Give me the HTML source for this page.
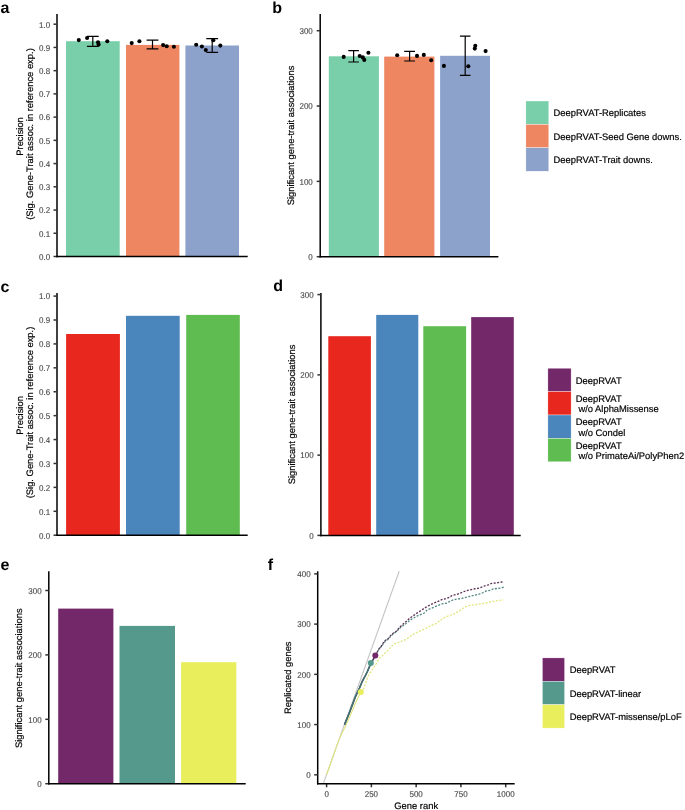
<!DOCTYPE html>
<html><head><meta charset="utf-8"><style>
html,body{margin:0;padding:0;background:#fff;}
svg{display:block;font-family:"Liberation Sans", sans-serif;text-rendering:geometricPrecision;will-change:transform;}
</style></head><body><div id="w">
<svg width="685" height="810" viewBox="0 0 685 810">
<g>
<rect width="685" height="810" fill="#fff"/>
<text x="0.6" y="12.8" font-size="16" font-weight="bold" fill="#000">a</text>
<text transform="translate(50.1,259.80) scale(0.952,1)" font-size="8.4" fill="#4d4d4d" stroke="#4d4d4d" stroke-width="0.15" text-anchor="end">0.0</text>
<text transform="translate(50.1,236.57) scale(0.952,1)" font-size="8.4" fill="#4d4d4d" stroke="#4d4d4d" stroke-width="0.15" text-anchor="end">0.1</text>
<text transform="translate(50.1,213.34) scale(0.952,1)" font-size="8.4" fill="#4d4d4d" stroke="#4d4d4d" stroke-width="0.15" text-anchor="end">0.2</text>
<text transform="translate(50.1,190.11) scale(0.952,1)" font-size="8.4" fill="#4d4d4d" stroke="#4d4d4d" stroke-width="0.15" text-anchor="end">0.3</text>
<text transform="translate(50.1,166.88) scale(0.952,1)" font-size="8.4" fill="#4d4d4d" stroke="#4d4d4d" stroke-width="0.15" text-anchor="end">0.4</text>
<text transform="translate(50.1,143.65) scale(0.952,1)" font-size="8.4" fill="#4d4d4d" stroke="#4d4d4d" stroke-width="0.15" text-anchor="end">0.5</text>
<text transform="translate(50.1,120.42) scale(0.952,1)" font-size="8.4" fill="#4d4d4d" stroke="#4d4d4d" stroke-width="0.15" text-anchor="end">0.6</text>
<text transform="translate(50.1,97.19) scale(0.952,1)" font-size="8.4" fill="#4d4d4d" stroke="#4d4d4d" stroke-width="0.15" text-anchor="end">0.7</text>
<text transform="translate(50.1,73.96) scale(0.952,1)" font-size="8.4" fill="#4d4d4d" stroke="#4d4d4d" stroke-width="0.15" text-anchor="end">0.8</text>
<text transform="translate(50.1,50.73) scale(0.952,1)" font-size="8.4" fill="#4d4d4d" stroke="#4d4d4d" stroke-width="0.15" text-anchor="end">0.9</text>
<text transform="translate(50.1,27.50) scale(0.952,1)" font-size="8.4" fill="#4d4d4d" stroke="#4d4d4d" stroke-width="0.15" text-anchor="end">1.0</text>
<text transform="translate(22.5,136.45) rotate(-90)" x="0" y="0" font-size="9.4" fill="#000" stroke="#000" stroke-width="0.18" text-anchor="middle">Precision</text>
<text transform="translate(32.8,134.05) rotate(-90)" x="0" y="0" font-size="9.4" fill="#000" stroke="#000" stroke-width="0.18" text-anchor="middle">(Sig. Gene-Trait assoc. in reference exp.)</text>
<rect x="66" y="41.2" width="53.70" height="215.30" fill="#79cfa9"/>
<rect x="126" y="44.9" width="53.40" height="211.60" fill="#ee8662"/>
<rect x="185.4" y="45.5" width="53.60" height="211.00" fill="#8da2cb"/>
<path d="M86.89999999999999,36.3H98.7M92.8,36.3V46.4M86.89999999999999,46.4H98.7" stroke="#000" stroke-width="1.2" fill="none"/>
<path d="M146.6,40.1H158.4M152.5,40.1V48.9M146.6,48.9H158.4" stroke="#000" stroke-width="1.2" fill="none"/>
<path d="M206.29999999999998,38.6H218.1M212.2,38.6V52.3M206.29999999999998,52.3H218.1" stroke="#000" stroke-width="1.2" fill="none"/>
<circle cx="78.8" cy="40.1" r="2.05" fill="#000"/>
<circle cx="87.1" cy="38.0" r="2.05" fill="#000"/>
<circle cx="98.0" cy="42.3" r="2.05" fill="#000"/>
<circle cx="98.6" cy="44.6" r="2.05" fill="#000"/>
<circle cx="107.3" cy="41.2" r="2.05" fill="#000"/>
<circle cx="131.7" cy="43.1" r="2.05" fill="#000"/>
<circle cx="139.4" cy="41.3" r="2.05" fill="#000"/>
<circle cx="163.1" cy="45.1" r="2.05" fill="#000"/>
<circle cx="166.7" cy="46.3" r="2.05" fill="#000"/>
<circle cx="173.9" cy="46.7" r="2.05" fill="#000"/>
<circle cx="196.2" cy="44.7" r="2.05" fill="#000"/>
<circle cx="201.9" cy="46.5" r="2.05" fill="#000"/>
<circle cx="205.8" cy="50.0" r="2.05" fill="#000"/>
<circle cx="213.3" cy="40.3" r="2.05" fill="#000"/>
<circle cx="220.3" cy="45.6" r="2.05" fill="#000"/>
<text x="272.3" y="12.8" font-size="16" font-weight="bold" fill="#000">b</text>
<text transform="translate(312.8,260.00) scale(0.952,1)" font-size="8.4" fill="#4d4d4d" stroke="#4d4d4d" stroke-width="0.15" text-anchor="end">0</text>
<text transform="translate(312.8,184.67) scale(0.952,1)" font-size="8.4" fill="#4d4d4d" stroke="#4d4d4d" stroke-width="0.15" text-anchor="end">100</text>
<text transform="translate(312.8,109.34) scale(0.952,1)" font-size="8.4" fill="#4d4d4d" stroke="#4d4d4d" stroke-width="0.15" text-anchor="end">200</text>
<text transform="translate(312.8,34.01) scale(0.952,1)" font-size="8.4" fill="#4d4d4d" stroke="#4d4d4d" stroke-width="0.15" text-anchor="end">300</text>
<text transform="translate(294.0,135.5) rotate(-90)" x="0" y="0" font-size="9.4" fill="#000" stroke="#000" stroke-width="0.18" text-anchor="middle">Significant gene-trait associations</text>
<rect x="328.8" y="56.3" width="50.10" height="200.40" fill="#79cfa9"/>
<rect x="384.2" y="56.6" width="50.20" height="200.10" fill="#ee8662"/>
<rect x="440.1" y="55.8" width="49.90" height="200.90" fill="#8da2cb"/>
<path d="M348.3,50.7H358.90000000000003M353.6,50.7V62.0M348.3,62.0H358.90000000000003" stroke="#000" stroke-width="1.2" fill="none"/>
<path d="M404.20000000000005,51.4H415.0M409.6,51.4V61.0M404.20000000000005,61.0H415.0" stroke="#000" stroke-width="1.2" fill="none"/>
<path d="M459.9,36.1H470.5M465.2,36.1V75.4M459.9,75.4H470.5" stroke="#000" stroke-width="1.2" fill="none"/>
<circle cx="343.7" cy="56.9" r="2.05" fill="#000"/>
<circle cx="359.7" cy="56.0" r="2.05" fill="#000"/>
<circle cx="362.8" cy="57.4" r="2.05" fill="#000"/>
<circle cx="364.3" cy="59.9" r="2.05" fill="#000"/>
<circle cx="368.4" cy="52.8" r="2.05" fill="#000"/>
<circle cx="397.2" cy="55.3" r="2.05" fill="#000"/>
<circle cx="417.0" cy="55.9" r="2.05" fill="#000"/>
<circle cx="423.8" cy="54.9" r="2.05" fill="#000"/>
<circle cx="431.2" cy="60.3" r="2.05" fill="#000"/>
<circle cx="443.9" cy="65.9" r="2.05" fill="#000"/>
<circle cx="468.3" cy="66.2" r="2.05" fill="#000"/>
<circle cx="475.3" cy="45.8" r="2.05" fill="#000"/>
<circle cx="474.8" cy="48.6" r="2.05" fill="#000"/>
<circle cx="485.6" cy="51.1" r="2.05" fill="#000"/>
<rect x="525.9" y="101.00" width="22.9" height="23.40" fill="#79cfa9" stroke="#fff" stroke-width="0.35"/>
<text x="553.6" y="116.40" font-size="9.4" fill="#000" stroke="#000" stroke-width="0.18" xml:space="preserve">DeepRVAT-Replicates</text>
<rect x="525.9" y="124.40" width="22.9" height="23.40" fill="#ee8662" stroke="#fff" stroke-width="0.35"/>
<text x="553.6" y="139.80" font-size="9.4" fill="#000" stroke="#000" stroke-width="0.18" xml:space="preserve">DeepRVAT-Seed Gene downs.</text>
<rect x="525.9" y="147.80" width="22.9" height="23.40" fill="#8da2cb" stroke="#fff" stroke-width="0.35"/>
<text x="553.6" y="163.20" font-size="9.4" fill="#000" stroke="#000" stroke-width="0.18" xml:space="preserve">DeepRVAT-Trait downs.</text>
<text x="0.6" y="291.8" font-size="16" font-weight="bold" fill="#000">c</text>
<text transform="translate(50.1,538.50) scale(0.952,1)" font-size="8.4" fill="#4d4d4d" stroke="#4d4d4d" stroke-width="0.15" text-anchor="end">0.0</text>
<text transform="translate(50.1,514.59) scale(0.952,1)" font-size="8.4" fill="#4d4d4d" stroke="#4d4d4d" stroke-width="0.15" text-anchor="end">0.1</text>
<text transform="translate(50.1,490.68) scale(0.952,1)" font-size="8.4" fill="#4d4d4d" stroke="#4d4d4d" stroke-width="0.15" text-anchor="end">0.2</text>
<text transform="translate(50.1,466.77) scale(0.952,1)" font-size="8.4" fill="#4d4d4d" stroke="#4d4d4d" stroke-width="0.15" text-anchor="end">0.3</text>
<text transform="translate(50.1,442.86) scale(0.952,1)" font-size="8.4" fill="#4d4d4d" stroke="#4d4d4d" stroke-width="0.15" text-anchor="end">0.4</text>
<text transform="translate(50.1,418.95) scale(0.952,1)" font-size="8.4" fill="#4d4d4d" stroke="#4d4d4d" stroke-width="0.15" text-anchor="end">0.5</text>
<text transform="translate(50.1,395.04) scale(0.952,1)" font-size="8.4" fill="#4d4d4d" stroke="#4d4d4d" stroke-width="0.15" text-anchor="end">0.6</text>
<text transform="translate(50.1,371.13) scale(0.952,1)" font-size="8.4" fill="#4d4d4d" stroke="#4d4d4d" stroke-width="0.15" text-anchor="end">0.7</text>
<text transform="translate(50.1,347.22) scale(0.952,1)" font-size="8.4" fill="#4d4d4d" stroke="#4d4d4d" stroke-width="0.15" text-anchor="end">0.8</text>
<text transform="translate(50.1,323.31) scale(0.952,1)" font-size="8.4" fill="#4d4d4d" stroke="#4d4d4d" stroke-width="0.15" text-anchor="end">0.9</text>
<text transform="translate(50.1,299.40) scale(0.952,1)" font-size="8.4" fill="#4d4d4d" stroke="#4d4d4d" stroke-width="0.15" text-anchor="end">1.0</text>
<text transform="translate(22.5,415.4) rotate(-90)" x="0" y="0" font-size="9.4" fill="#000" stroke="#000" stroke-width="0.18" text-anchor="middle">Precision</text>
<text transform="translate(32.8,412.5) rotate(-90)" x="0" y="0" font-size="9.4" fill="#000" stroke="#000" stroke-width="0.18" text-anchor="middle">(Sig. Gene-Trait assoc. in reference exp.)</text>
<rect x="66.1" y="334.0" width="53.80" height="201.20" fill="#e8271f"/>
<rect x="126.0" y="315.8" width="53.70" height="219.40" fill="#4a85bc"/>
<rect x="186.2" y="314.9" width="53.60" height="220.30" fill="#5fbc50"/>
<text x="273.2" y="291.2" font-size="16" font-weight="bold" fill="#000">d</text>
<text transform="translate(313.6,538.70) scale(0.952,1)" font-size="8.4" fill="#4d4d4d" stroke="#4d4d4d" stroke-width="0.15" text-anchor="end">0</text>
<text transform="translate(313.6,458.43) scale(0.952,1)" font-size="8.4" fill="#4d4d4d" stroke="#4d4d4d" stroke-width="0.15" text-anchor="end">100</text>
<text transform="translate(313.6,378.16) scale(0.952,1)" font-size="8.4" fill="#4d4d4d" stroke="#4d4d4d" stroke-width="0.15" text-anchor="end">200</text>
<text transform="translate(313.6,297.89) scale(0.952,1)" font-size="8.4" fill="#4d4d4d" stroke="#4d4d4d" stroke-width="0.15" text-anchor="end">300</text>
<text transform="translate(294.5,414.5) rotate(-90)" x="0" y="0" font-size="9.4" fill="#000" stroke="#000" stroke-width="0.18" text-anchor="middle">Significant gene-trait associations</text>
<rect x="328.3" y="336.2" width="42.60" height="199.20" fill="#e8271f"/>
<rect x="376.2" y="314.9" width="42.10" height="220.50" fill="#4a85bc"/>
<rect x="423.3" y="326.2" width="42.80" height="209.20" fill="#5fbc50"/>
<rect x="471.2" y="317.1" width="42.60" height="218.30" fill="#73286a"/>
<rect x="547.9" y="368.20" width="23.2" height="23.40" fill="#73286a" stroke="#fff" stroke-width="0.35"/>
<text x="575.8" y="383.60" font-size="9.4" fill="#000" stroke="#000" stroke-width="0.18" xml:space="preserve">DeepRVAT</text>
<rect x="547.9" y="391.60" width="23.2" height="23.40" fill="#e8271f" stroke="#fff" stroke-width="0.35"/>
<text x="575.8" y="401.85" font-size="9.4" fill="#000" stroke="#000" stroke-width="0.18" xml:space="preserve">DeepRVAT</text>
<text x="575.8" y="412.15" font-size="9.4" fill="#000" stroke="#000" stroke-width="0.18" xml:space="preserve"> w/o AlphaMissense</text>
<rect x="547.9" y="415.00" width="23.2" height="23.40" fill="#4a85bc" stroke="#fff" stroke-width="0.35"/>
<text x="575.8" y="425.25" font-size="9.4" fill="#000" stroke="#000" stroke-width="0.18" xml:space="preserve">DeepRVAT</text>
<text x="575.8" y="435.55" font-size="9.4" fill="#000" stroke="#000" stroke-width="0.18" xml:space="preserve"> w/o Condel</text>
<rect x="547.9" y="438.40" width="23.2" height="23.40" fill="#5fbc50" stroke="#fff" stroke-width="0.35"/>
<text x="575.8" y="448.65" font-size="9.4" fill="#000" stroke="#000" stroke-width="0.18" xml:space="preserve">DeepRVAT</text>
<text x="575.8" y="458.95" font-size="9.4" fill="#000" stroke="#000" stroke-width="0.18" xml:space="preserve"> w/o PrimateAi/PolyPhen2</text>
<text x="0.6" y="569.8" font-size="16" font-weight="bold" fill="#000">e</text>
<text transform="translate(41.6,787.00) scale(0.952,1)" font-size="8.4" fill="#4d4d4d" stroke="#4d4d4d" stroke-width="0.15" text-anchor="end">0</text>
<text transform="translate(41.6,722.60) scale(0.952,1)" font-size="8.4" fill="#4d4d4d" stroke="#4d4d4d" stroke-width="0.15" text-anchor="end">100</text>
<text transform="translate(41.6,658.20) scale(0.952,1)" font-size="8.4" fill="#4d4d4d" stroke="#4d4d4d" stroke-width="0.15" text-anchor="end">200</text>
<text transform="translate(41.6,593.80) scale(0.952,1)" font-size="8.4" fill="#4d4d4d" stroke="#4d4d4d" stroke-width="0.15" text-anchor="end">300</text>
<text transform="translate(22.3,678.2) rotate(-90)" x="0" y="0" font-size="9.4" fill="#000" stroke="#000" stroke-width="0.18" text-anchor="middle">Significant gene-trait associations</text>
<rect x="58.2" y="608.6" width="55.20" height="175.10" fill="#73286a"/>
<rect x="119.5" y="625.9" width="55.50" height="157.80" fill="#55988c"/>
<rect x="181.1" y="662.2" width="55.20" height="121.50" fill="#e8ee5c"/>
<text x="267.7" y="569.9" font-size="16" font-weight="bold" fill="#000">f</text>
<text transform="translate(310.6,778.10) scale(0.952,1)" font-size="8.4" fill="#4d4d4d" stroke="#4d4d4d" stroke-width="0.15" text-anchor="end">0</text>
<text transform="translate(310.6,727.87) scale(0.952,1)" font-size="8.4" fill="#4d4d4d" stroke="#4d4d4d" stroke-width="0.15" text-anchor="end">100</text>
<text transform="translate(310.6,677.64) scale(0.952,1)" font-size="8.4" fill="#4d4d4d" stroke="#4d4d4d" stroke-width="0.15" text-anchor="end">200</text>
<text transform="translate(310.6,627.41) scale(0.952,1)" font-size="8.4" fill="#4d4d4d" stroke="#4d4d4d" stroke-width="0.15" text-anchor="end">300</text>
<text transform="translate(310.6,577.18) scale(0.952,1)" font-size="8.4" fill="#4d4d4d" stroke="#4d4d4d" stroke-width="0.15" text-anchor="end">400</text>
<line x1="326.60" y1="783.7" x2="326.60" y2="787.3" stroke="#333" stroke-width="1.5"/>
<text transform="translate(326.60,796.7) scale(0.952,1)" font-size="8.4" fill="#4d4d4d" stroke="#4d4d4d" stroke-width="0.15" text-anchor="middle">0</text>
<line x1="371.38" y1="783.7" x2="371.38" y2="787.3" stroke="#333" stroke-width="1.5"/>
<text transform="translate(371.38,796.7) scale(0.952,1)" font-size="8.4" fill="#4d4d4d" stroke="#4d4d4d" stroke-width="0.15" text-anchor="middle">250</text>
<line x1="416.15" y1="783.7" x2="416.15" y2="787.3" stroke="#333" stroke-width="1.5"/>
<text transform="translate(416.15,796.7) scale(0.952,1)" font-size="8.4" fill="#4d4d4d" stroke="#4d4d4d" stroke-width="0.15" text-anchor="middle">500</text>
<line x1="460.93" y1="783.7" x2="460.93" y2="787.3" stroke="#333" stroke-width="1.5"/>
<text transform="translate(460.93,796.7) scale(0.952,1)" font-size="8.4" fill="#4d4d4d" stroke="#4d4d4d" stroke-width="0.15" text-anchor="middle">750</text>
<line x1="505.70" y1="783.7" x2="505.70" y2="787.3" stroke="#333" stroke-width="1.5"/>
<text transform="translate(505.70,796.7) scale(0.952,1)" font-size="8.4" fill="#4d4d4d" stroke="#4d4d4d" stroke-width="0.15" text-anchor="middle">1000</text>
<text x="416.2" y="808.6" font-size="9.4" fill="#000" stroke="#000" stroke-width="0.18" text-anchor="middle">Gene rank</text>
<text transform="translate(291.0,677.7) rotate(-90)" x="0" y="0" font-size="9.4" fill="#000" stroke="#000" stroke-width="0.18" text-anchor="middle">Replicated genes</text>
<line x1="323.4" y1="783.4" x2="399.2" y2="571.3" stroke="#c4c4c4" stroke-width="1.1"/>
<polyline points="326.6,774.8 338.8,740.0 346.5,724.0 351.8,712.0 354.6,705.0 358.3,697.0 360.8,692.1" fill="none" stroke="#e0e57e" stroke-width="1.1"/>
<polyline points="360.8,692.1 363.7,688.4 366.0,682.0 368.4,675.5 372.5,669.5 376.6,663.0 379.6,658.0 382.3,655.8 384.9,653.2 387.5,650.6 390.6,647.5 393.2,644.5 396.5,643.0 400.8,641.6 404.5,640.1 409.6,637.2 413.2,634.3 418.4,631.7 422.7,629.9 427.8,627.3 431.5,625.5 435.9,623.7 440.3,620.4 443.5,618.2 445.8,616.8 449.9,615.4 453.4,614.2 457.5,611.9 461.0,609.8 464.5,607.2 468.0,605.7 472.1,605.2 476.6,604.5 483.6,603.3 487.7,602.7 491.5,601.5 495.3,600.9 499.6,600.4 503.4,599.8" fill="none" stroke="#e0e57e" stroke-width="1.3" stroke-dasharray="2 1.5"/>
<polyline points="370.8,663.0 373.5,658.5 376.5,653.5 379.4,648.6 381.8,646.0 383.5,643.5 385.5,641.0 388.3,639.0 390.5,636.5 393.0,634.0 396.5,631.5 400.0,628.0 405.8,623.7 410.9,619.6 417.0,616.1 424.2,613.0 427.2,609.9 433.4,607.4 439.5,604.8 442.9,603.7 446.7,603.1 449.9,601.4 453.1,599.9 456.9,599.0 461.0,598.7 464.5,597.6 468.6,596.7 471.8,595.8 476.3,594.8 479.8,594.0 483.3,592.5 486.2,591.0 490.3,590.4 493.2,589.0 497.6,588.4 501.7,588.0 504.9,586.6" fill="none" stroke="#518680" stroke-width="1.3" stroke-dasharray="2 1.5"/>
<polyline points="375.3,655.6 377.7,651.0 379.4,648.2 381.6,645.8 383.1,643.1 385.1,640.5 388.0,638.8 390.1,636.1 392.8,633.5 396.3,631.3 399.6,627.3 404.7,622.7 409.9,618.1 415.0,614.5 421.1,610.4 427.2,606.4 433.4,603.3 439.5,600.7 441.8,599.6 445.8,598.6 449.3,597.4 452.3,595.4 456.1,594.6 459.6,593.5 462.8,592.0 466.3,590.7 469.8,590.0 473.6,589.0 477.8,588.4 481.5,587.2 484.8,585.8 488.3,584.9 491.5,583.4 495.6,583.0 499.6,582.4 504.0,581.7" fill="none" stroke="#5a3054" stroke-width="1.3" stroke-dasharray="2 1.5"/>
<polyline points="344.5,724.6 349.7,712.0 355.5,696.5 359.6,687.8 362.5,680.8 365.4,675.5 367.4,671.5 370.8,664.0 373.0,660.0 375.3,655.6" fill="none" stroke="#5a3054" stroke-width="1.5"/>
<polyline points="344.5,724.6 349.7,712.0 355.5,696.5 359.6,687.8 362.5,680.8 365.4,675.5 367.2,672.0 370.8,663.0" fill="none" stroke="#3f7671" stroke-width="1.5"/>
<circle cx="360.8" cy="692.1" r="3.0" fill="#e8ee5c"/>
<circle cx="370.8" cy="663.0" r="3.0" fill="#55988c"/>
<circle cx="375.3" cy="655.6" r="3.0" fill="#73286a"/>
<rect x="542.4" y="657.90" width="22.2" height="23.40" fill="#73286a" stroke="#fff" stroke-width="0.35"/>
<text x="569.7" y="673.30" font-size="9.4" fill="#000" stroke="#000" stroke-width="0.18" xml:space="preserve">DeepRVAT</text>
<rect x="542.4" y="681.30" width="22.2" height="23.40" fill="#55988c" stroke="#fff" stroke-width="0.35"/>
<text x="569.7" y="696.70" font-size="9.4" fill="#000" stroke="#000" stroke-width="0.18" xml:space="preserve">DeepRVAT-linear</text>
<rect x="542.4" y="704.70" width="22.2" height="23.40" fill="#e8ee5c" stroke="#fff" stroke-width="0.35"/>
<text x="569.7" y="720.10" font-size="9.4" fill="#000" stroke="#000" stroke-width="0.18" xml:space="preserve">DeepRVAT-missense/pLoF</text>
<line x1="57" y1="14.0" x2="57" y2="257.25" stroke="#000" stroke-width="1.5"/>
<line x1="53.5" y1="256.50" x2="57" y2="256.50" stroke="#333" stroke-width="1.5"/>
<line x1="53.5" y1="233.27" x2="57" y2="233.27" stroke="#333" stroke-width="1.5"/>
<line x1="53.5" y1="210.04" x2="57" y2="210.04" stroke="#333" stroke-width="1.5"/>
<line x1="53.5" y1="186.81" x2="57" y2="186.81" stroke="#333" stroke-width="1.5"/>
<line x1="53.5" y1="163.58" x2="57" y2="163.58" stroke="#333" stroke-width="1.5"/>
<line x1="53.5" y1="140.35" x2="57" y2="140.35" stroke="#333" stroke-width="1.5"/>
<line x1="53.5" y1="117.12" x2="57" y2="117.12" stroke="#333" stroke-width="1.5"/>
<line x1="53.5" y1="93.89" x2="57" y2="93.89" stroke="#333" stroke-width="1.5"/>
<line x1="53.5" y1="70.66" x2="57" y2="70.66" stroke="#333" stroke-width="1.5"/>
<line x1="53.5" y1="47.43" x2="57" y2="47.43" stroke="#333" stroke-width="1.5"/>
<line x1="53.5" y1="24.20" x2="57" y2="24.20" stroke="#333" stroke-width="1.5"/>
<line x1="56.25" y1="256.5" x2="247.7" y2="256.5" stroke="#000" stroke-width="1.5"/>
<line x1="320.2" y1="14.0" x2="320.2" y2="257.45" stroke="#000" stroke-width="1.5"/>
<line x1="316.7" y1="256.70" x2="320.2" y2="256.70" stroke="#333" stroke-width="1.5"/>
<line x1="316.7" y1="181.37" x2="320.2" y2="181.37" stroke="#333" stroke-width="1.5"/>
<line x1="316.7" y1="106.04" x2="320.2" y2="106.04" stroke="#333" stroke-width="1.5"/>
<line x1="316.7" y1="30.71" x2="320.2" y2="30.71" stroke="#333" stroke-width="1.5"/>
<line x1="319.45" y1="256.7" x2="498.4" y2="256.7" stroke="#000" stroke-width="1.5"/>
<line x1="57" y1="293.0" x2="57" y2="535.95" stroke="#000" stroke-width="1.5"/>
<line x1="53.5" y1="535.20" x2="57" y2="535.20" stroke="#333" stroke-width="1.5"/>
<line x1="53.5" y1="511.29" x2="57" y2="511.29" stroke="#333" stroke-width="1.5"/>
<line x1="53.5" y1="487.38" x2="57" y2="487.38" stroke="#333" stroke-width="1.5"/>
<line x1="53.5" y1="463.47" x2="57" y2="463.47" stroke="#333" stroke-width="1.5"/>
<line x1="53.5" y1="439.56" x2="57" y2="439.56" stroke="#333" stroke-width="1.5"/>
<line x1="53.5" y1="415.65" x2="57" y2="415.65" stroke="#333" stroke-width="1.5"/>
<line x1="53.5" y1="391.74" x2="57" y2="391.74" stroke="#333" stroke-width="1.5"/>
<line x1="53.5" y1="367.83" x2="57" y2="367.83" stroke="#333" stroke-width="1.5"/>
<line x1="53.5" y1="343.92" x2="57" y2="343.92" stroke="#333" stroke-width="1.5"/>
<line x1="53.5" y1="320.01" x2="57" y2="320.01" stroke="#333" stroke-width="1.5"/>
<line x1="53.5" y1="296.10" x2="57" y2="296.10" stroke="#333" stroke-width="1.5"/>
<line x1="56.25" y1="535.2" x2="247.7" y2="535.2" stroke="#000" stroke-width="1.5"/>
<line x1="320.9" y1="293.0" x2="320.9" y2="536.15" stroke="#000" stroke-width="1.5"/>
<line x1="317.4" y1="535.40" x2="320.9" y2="535.40" stroke="#333" stroke-width="1.5"/>
<line x1="317.4" y1="455.13" x2="320.9" y2="455.13" stroke="#333" stroke-width="1.5"/>
<line x1="317.4" y1="374.86" x2="320.9" y2="374.86" stroke="#333" stroke-width="1.5"/>
<line x1="317.4" y1="294.59" x2="320.9" y2="294.59" stroke="#333" stroke-width="1.5"/>
<line x1="320.15" y1="535.4" x2="520.7" y2="535.4" stroke="#000" stroke-width="1.5"/>
<line x1="48.8" y1="571.3" x2="48.8" y2="784.45" stroke="#000" stroke-width="1.5"/>
<line x1="45.3" y1="783.70" x2="48.8" y2="783.70" stroke="#333" stroke-width="1.5"/>
<line x1="45.3" y1="719.30" x2="48.8" y2="719.30" stroke="#333" stroke-width="1.5"/>
<line x1="45.3" y1="654.90" x2="48.8" y2="654.90" stroke="#333" stroke-width="1.5"/>
<line x1="45.3" y1="590.50" x2="48.8" y2="590.50" stroke="#333" stroke-width="1.5"/>
<line x1="48.05" y1="783.7" x2="245.7" y2="783.7" stroke="#000" stroke-width="1.5"/>
<line x1="317.7" y1="571.3" x2="317.7" y2="784.45" stroke="#000" stroke-width="1.5"/>
<line x1="314.2" y1="774.80" x2="317.7" y2="774.80" stroke="#333" stroke-width="1.5"/>
<line x1="314.2" y1="724.57" x2="317.7" y2="724.57" stroke="#333" stroke-width="1.5"/>
<line x1="314.2" y1="674.34" x2="317.7" y2="674.34" stroke="#333" stroke-width="1.5"/>
<line x1="314.2" y1="624.11" x2="317.7" y2="624.11" stroke="#333" stroke-width="1.5"/>
<line x1="314.2" y1="573.88" x2="317.7" y2="573.88" stroke="#333" stroke-width="1.5"/>
<line x1="316.95" y1="783.7" x2="514.7" y2="783.7" stroke="#000" stroke-width="1.5"/>
</g>
</svg></div></body></html>
